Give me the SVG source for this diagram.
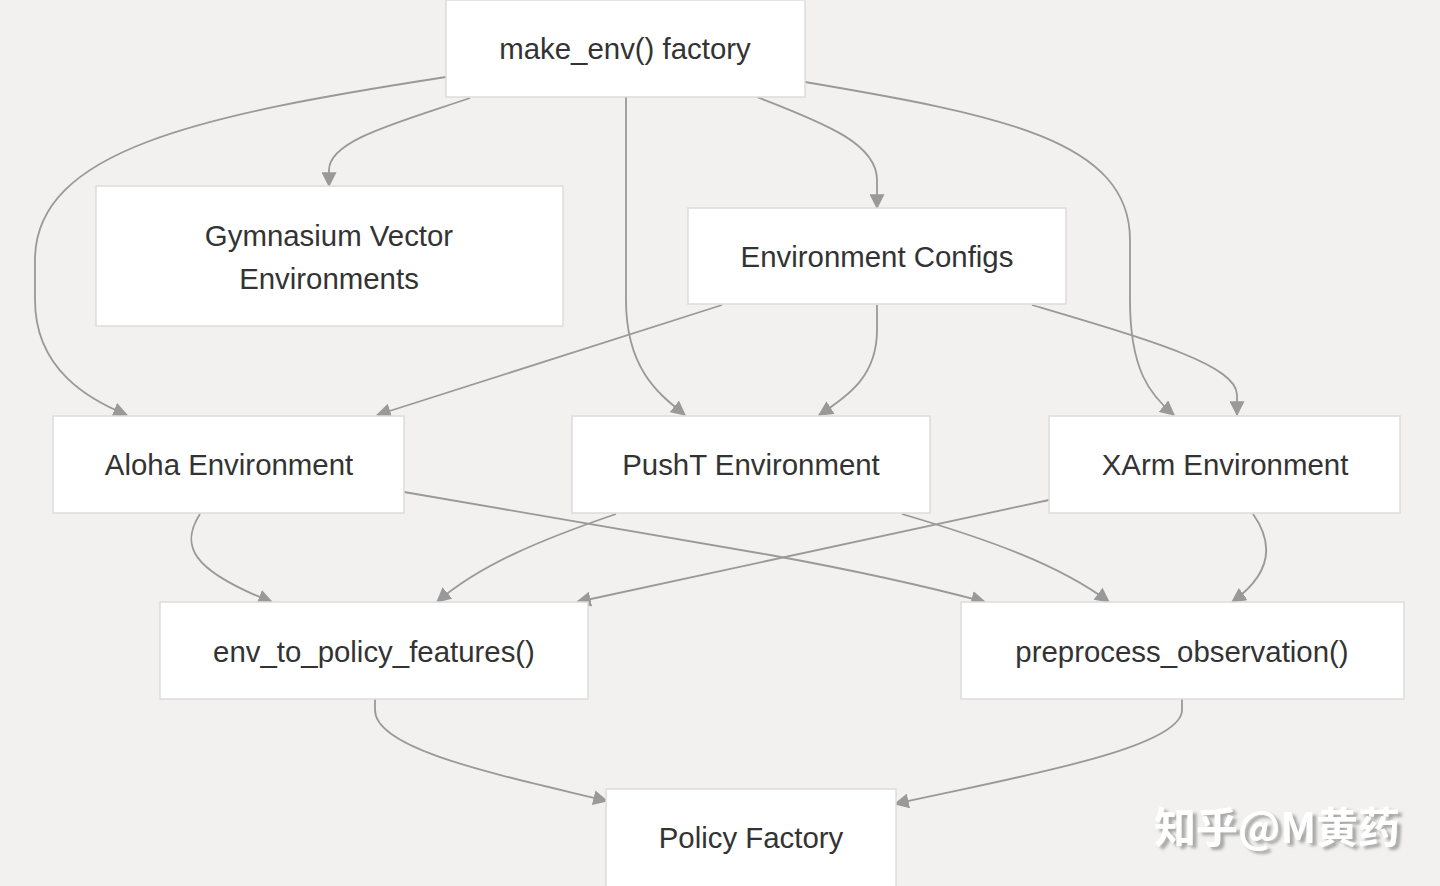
<svg xmlns="http://www.w3.org/2000/svg" width="1440" height="886" viewBox="0 0 1440 886">
<defs>
<style>
.node rect{fill:#ffffff;stroke:#dcdcdc;stroke-width:1.5}
.node text{font-family:"Liberation Sans",Arial,sans-serif;font-size:29.4px;fill:#333333;text-anchor:middle}
.edges path{fill:none;stroke:#999999;stroke-width:1.8;marker-end:url(#arr)}
.wm{font-family:"Noto Sans CJK SC",sans-serif;font-size:42px;font-weight:bold}
</style>
<marker id="arr" viewBox="0 0 12 12" refX="11" refY="6" markerWidth="15" markerHeight="15" markerUnits="userSpaceOnUse" orient="auto">
<path d="M0,0 L12,6 L0,12 z" fill="#999999"/>
</marker>
<filter id="sh" x="-10%" y="-30%" width="130%" height="160%">
<feDropShadow dx="4" dy="3" stdDeviation="1.5" flood-color="#777777" flood-opacity="0.6"/>
</filter>
</defs>
<rect width="1440" height="886" fill="#f2f1f0"/>
<g class="edges">
<path d="M446,77 C200,115 35,150 35,260 L35,300 C35,370 90,400 127,415"/>
<path d="M470,98 C400,122 329,140 329,170 L329,186"/>
<path d="M626,97 L626,300 C626,370 660,395 685,415"/>
<path d="M757,97 C830,125 877,145 877,180 L877,208"/>
<path d="M805,82 C1000,115 1130,140 1130,240 L1130,300 C1130,370 1150,395 1174,415"/>
<path d="M722,305 L377,415"/>
<path d="M877,305 L877,330 C877,375 850,395 819,415"/>
<path d="M1032,305 C1150,340 1237,365 1237,395 L1237,415"/>
<path d="M200,514 C180,545 190,570 272,602"/>
<path d="M404,492 L770,555 C880,575 940,590 985,602"/>
<path d="M616,514 C540,540 480,565 437,602"/>
<path d="M902,514 C990,540 1060,565 1109,602"/>
<path d="M1049,500 L577,602"/>
<path d="M1253,514 C1275,545 1270,575 1232,602"/>
<path d="M375,699 L375,710 C375,750 500,775 607,801"/>
<path d="M1182,699 L1182,710 C1182,750 1000,780 895,804"/>
</g>
<g id="make_env" class="node"><rect x="446" y="0" width="359" height="97"/><text x="625" y="59">make_env() factory</text></g>
<g id="gym" class="node"><rect x="96" y="186" width="467" height="140"/><text x="329" y="246">Gymnasium Vector</text><text x="329" y="289">Environments</text></g>
<g id="configs" class="node"><rect x="688" y="208" width="378" height="96"/><text x="877" y="267">Environment Configs</text></g>
<g id="aloha" class="node"><rect x="53" y="416" width="351" height="97"/><text x="229" y="475">Aloha Environment</text></g>
<g id="pusht" class="node"><rect x="572" y="416" width="358" height="97"/><text x="751" y="475">PushT Environment</text></g>
<g id="xarm" class="node"><rect x="1049" y="416" width="351" height="97"/><text x="1225" y="475">XArm Environment</text></g>
<g id="env_to_policy" class="node"><rect x="160" y="602" width="428" height="97"/><text x="374" y="662">env_to_policy_features()</text></g>
<g id="preprocess" class="node"><rect x="961" y="602" width="443" height="97"/><text x="1182" y="662">preprocess_observation()</text></g>
<g id="policy" class="node"><rect x="606" y="789" width="290" height="100"/><text x="751" y="848">Policy Factory</text></g>
<text class="wm" x="1154" y="843" fill="#ffffff" filter="url(#sh)">知乎@M黄药</text>
</svg>
